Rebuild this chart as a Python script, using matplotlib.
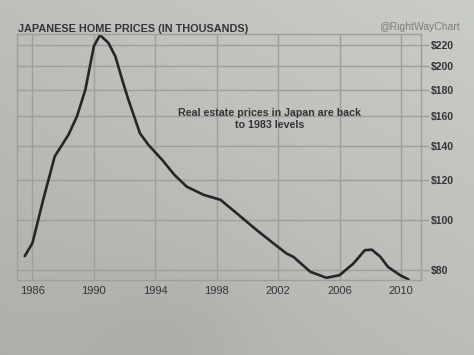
import numpy as np
import matplotlib.pyplot as plt
from matplotlib.ticker import FixedLocator, FuncFormatter, NullLocator

plt.rcParams['font.family'] = ['Liberation Sans', 'DejaVu Sans']

# Japanese home prices (thousands of $)
years = [1985.5, 1986.0, 1986.7, 1987.45, 1988.35, 1988.9, 1989.45, 1990.0, 1990.4,
         1990.95, 1991.4, 1991.85, 1992.25, 1993.0, 1993.55, 1994.45, 1995.25, 1996.05,
         1997.15, 1998.25, 1999.3, 2000.6, 2001.7, 2002.55, 2003.0, 2004.1, 2005.15,
         2006.0, 2006.9, 2007.65, 2008.1, 2008.65, 2009.15, 2009.95, 2010.5]
prices = [85.2, 90.3, 109.7, 133.3, 147.0, 159.6, 180.0, 218.7, 230.0,
          222.0, 209.0, 188.0, 172.0, 148.0, 140.5, 131.3, 122.7, 116.4,
          112.2, 109.7, 103.3, 95.8, 90.2, 86.2, 84.9, 79.4, 77.3,
          78.2, 82.4, 87.5, 87.7, 85.0, 81.2, 78.2, 76.7]

xticks = [1986, 1990, 1994, 1998, 2002, 2006, 2010]
yticks = [80, 100, 120, 140, 160, 180, 200, 220]

bg = "#b8bab6"
grid_col = "#9d9f9b"
text_col = "#333436"

fig = plt.figure(figsize=(4.74, 3.55), dpi=100, facecolor=bg)

# paper-like shading of the photographed page (lighter at top right)
h, w = 355, 474
yy, xx = np.mgrid[0:h, 0:w]
shade = 0.69 + 0.06 * (1 - yy / h) + 0.05 * (xx / w)
shade = shade - 0.025 * np.exp(-((xx - 170) ** 2) / 9000 - ((yy - 330) ** 2) / 4000)
img = np.dstack([shade * 0.985, shade, shade * 0.975])
fig.figimage(np.clip(img, 0, 1), xo=0, yo=0, origin="upper", zorder=0)

ax = fig.add_axes([0.036, 0.211, 0.852, 0.693])
ax.set_zorder(2)
ax.patch.set_alpha(0)

ax.plot(years, prices, color="#262628", lw=1.9, solid_capstyle="round",
        solid_joinstyle="round")

ax.set_yscale("log")
ax.set_xlim(1985.0, 2011.3)
ax.set_ylim(76.5, 231)

ax.yaxis.set_major_locator(FixedLocator(yticks))
ax.yaxis.set_minor_locator(NullLocator())
ax.yaxis.set_major_formatter(FuncFormatter(lambda v, p: "$%d" % v))
ax.yaxis.tick_right()
ax.set_xticks(xticks)

ax.grid(True, color=grid_col, lw=1.0)
for s in ax.spines.values():
    s.set_color(grid_col)
    s.set_linewidth(1.0)

ax.tick_params(axis="y", colors=grid_col, length=6, width=1, labelcolor=text_col,
               labelsize=7.5, pad=1)
ax.tick_params(axis="x", colors=grid_col, length=0, labelcolor=text_col,
               labelsize=8, pad=4)
for lab in ax.get_yticklabels():
    lab.set_fontweight("bold")

fig.text(0.038, 0.905, "JAPANESE HOME PRICES (IN THOUSANDS)", fontsize=7.8,
         fontweight="bold", color=text_col, ha="left", va="bottom", zorder=3)
fig.text(0.97, 0.91, "@RightWayChart", fontsize=7.5, color="#7e807f",
         ha="right", va="bottom", zorder=3)

ax.text(2001.45, 0.655, "Real estate prices in Japan are back\nto 1983 levels",
        transform=ax.get_xaxis_transform(), fontsize=7.7, fontweight="bold",
        color=text_col, ha="center", va="center", linespacing=1.35)

fig.savefig("out.png", dpi=100)
